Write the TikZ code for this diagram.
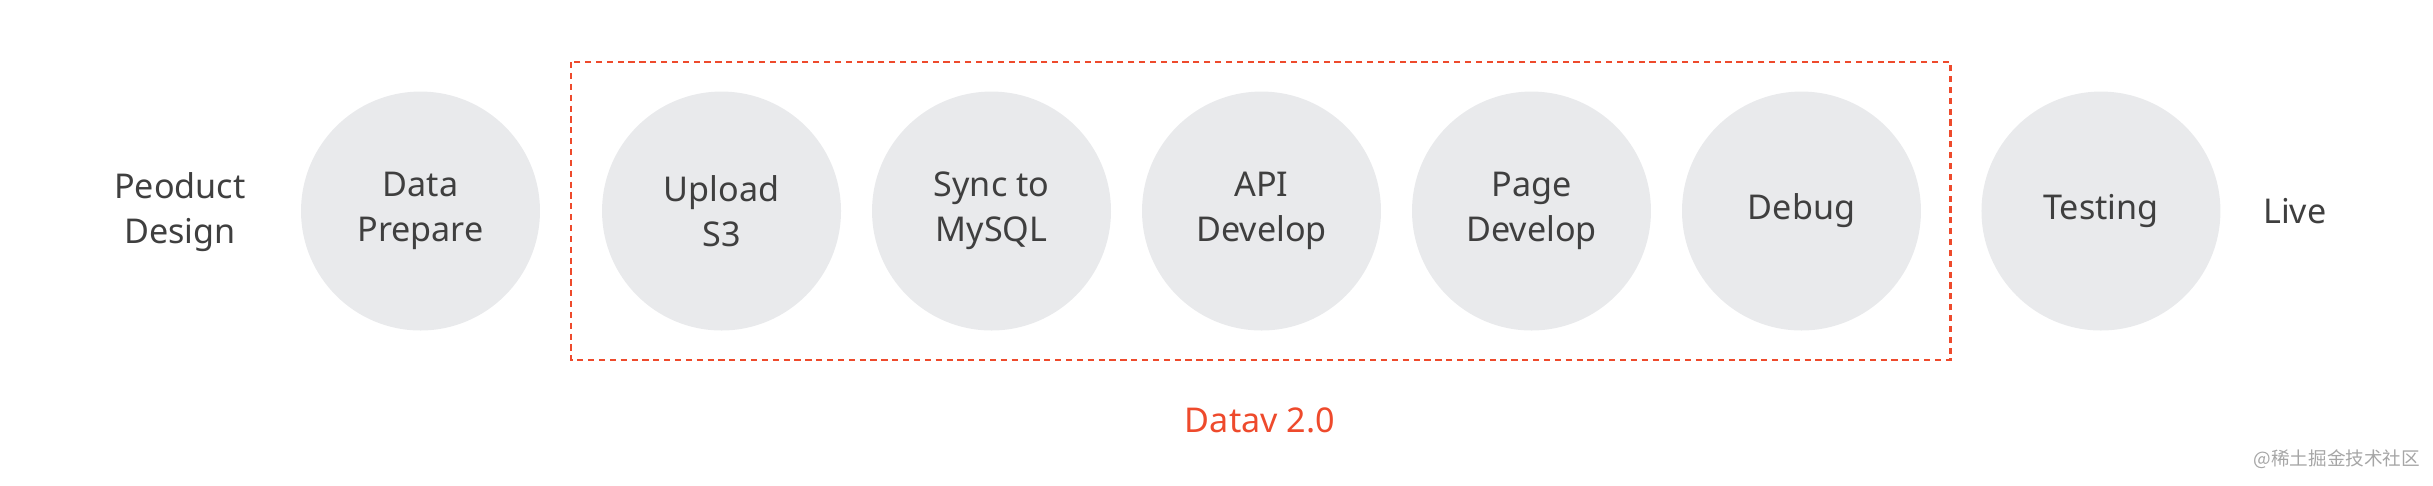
\documentclass[tikz,border=0pt]{standalone}
\usepackage{fontspec}
\setmainfont{Noto Sans}
\newfontfamily\cjk{Noto Sans CJK SC}
\definecolor{cfill}{HTML}{E9EAEC}
\definecolor{ctext}{HTML}{3F3F3F}
\definecolor{cred}{HTML}{EE4A2C}
\begin{document}
\begin{tikzpicture}[x=1pt,y=-1pt,
  stage/.style={circle,fill=cfill,minimum size=154pt,inner sep=0pt,text=ctext,align=center,font=\fontsize{22}{29}\selectfont},
  lbl/.style={text=ctext,align=center,font=\fontsize{22}{29}\selectfont}]
\useasboundingbox (0,0) rectangle (1568,313);
\node[lbl] (pd) at (116,137) {Peoduct\\Design};
\node[stage] (dp) at (271,136) {Data\\Prepare};
\node[stage] (up) at (465,136) {Upload\\S3};
\node[stage] (sy) at (639,136) {Sync to\\MySQL};
\node[stage] (api) at (813,136) {API\\Develop};
\node[stage] (pg) at (987,136) {Page\\Develop};
\node[stage] (db) at (1161,136) {Debug};
\node[stage] (ts) at (1354,136) {Testing};
\node[lbl] (lv) at (1479,136) {Live};
\draw[cred,line width=1.5pt,dash pattern=on 4pt off 3pt] (368,40) rectangle (1257,232);
\node[text=cred,font=\fontsize{22}{29}\selectfont] (dv) at (812,271) {Datav 2.0};
\node[text=gray!70,font=\cjk\fontsize{12}{14}\selectfont] (wm) at (1506,296) {@稀土掘金技术社区};
\end{tikzpicture}
\end{document}
